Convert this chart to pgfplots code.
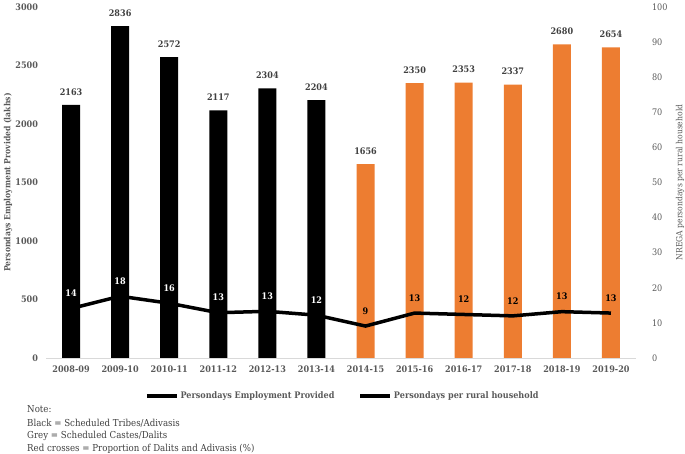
\documentclass[border=0pt]{standalone}
\usepackage{fontspec}
\usepackage{pgfplots}
\pgfplotsset{compat=1.18}
\newfontfamily\chartfont[FakeStretch=0.9]{DejaVu Serif}
\definecolor{tickgray}{HTML}{595959}
\definecolor{labelgray}{HTML}{404040}
\definecolor{nregaorange}{HTML}{ED7D31}
\definecolor{axisgray}{HTML}{D9D9D9}

\begin{document}
\begin{tikzpicture}
\useasboundingbox (0,0) rectangle (685pt,454pt);

% persondays employment provided (lakhs), left axis
\begin{axis}[
  at={(46.5pt,96pt)}, anchor=south west,
  width=589pt, height=351pt, scale only axis,
  xmin=-0.5, xmax=11.5, ymin=0, ymax=3000,
  xtick={0,...,11},
  xticklabels={2008-09,2009-10,2010-11,2011-12,2012-13,2013-14,2014-15,2015-16,2016-17,2017-18,2018-19,2019-20},
  ytick={0,500,...,3000},
  axis x line*=bottom, axis y line*=left,
  y axis line style={draw=none},
  x axis line style={draw=axisgray, line width=0.8pt, -},
  major tick length=0pt,
  tick label style={font=\chartfont\bfseries\fontsize{9}{10}\selectfont, text=tickgray},
  yticklabel style={xshift=-5pt},
  xticklabel style={yshift=-4pt},
  /pgf/number format/assume math mode=true,
  /pgf/number format/1000 sep={},
  ylabel={Persondays Employment Provided (lakhs)},
  ylabel style={at={(rel axis cs:0,0.5)}, anchor=center, yshift=38.5pt,
    font=\chartfont\bfseries\fontsize{8.5}{10}\selectfont, text=tickgray},
  nodes near coords,
  every node near coord/.append style={anchor=center, yshift=13pt,
    font=\chartfont\bfseries\fontsize{9}{10}\selectfont, text=labelgray},
]
\addplot[ybar, bar width=18pt, bar shift=0pt, fill=black, draw=none]
  coordinates {(0,2163) (1,2836) (2,2572) (3,2117) (4,2304) (5,2204)};
\addplot[ybar, bar width=18pt, bar shift=0pt, fill=nregaorange, draw=none]
  coordinates {(6,1656) (7,2350) (8,2353) (9,2337) (10,2680) (11,2654)};
\end{axis}

% persondays per rural household, right axis
\begin{axis}[
  at={(46.5pt,96pt)}, anchor=south west,
  width=589pt, height=351pt, scale only axis,
  xmin=-0.5, xmax=11.5, ymin=0, ymax=100,
  axis y line*=right, axis x line=none,
  y axis line style={draw=none},
  ytick={0,10,...,100},
  major tick length=0pt,
  yticklabel style={font=\chartfont\fontsize{9}{10}\selectfont, text=tickgray, anchor=west, xshift=13pt},
  /pgf/number format/assume math mode=true,
  ylabel={NREGA persondays per rural household},
  ylabel style={at={(rel axis cs:1,0.5)}, anchor=center, yshift=-44.5pt,
    font=\chartfont\fontsize{8.5}{10}\selectfont, text=tickgray},
  legend style={at={(0.503,-0.108)}, anchor=center, draw=none, fill=none,
    legend columns=2, font=\chartfont\bfseries\fontsize{9}{11}\selectfont, text=tickgray,
    /tikz/every even column/.append style={column sep=22pt}},
  legend image code/.code={\draw[#1] (0pt,0pt) -- (30pt,0pt);},
]
\addlegendimage{black, line width=3.5pt}
\addlegendentry{Persondays Employment Provided}
\addplot[black, line width=3.5pt, mark=none]
  coordinates {(0,14.1) (1,17.6) (2,15.6) (3,12.9) (4,13.3) (5,12.2) (6,9.1) (7,12.8) (8,12.4) (9,12.0) (10,13.2) (11,12.8)};
\addlegendentry{Persondays per rural household}
\addplot[draw=none, forget plot,
  nodes near coords={\pgfmathprintnumber[fixed,precision=0]{\pgfplotspointmeta}},
  every node near coord/.append style={anchor=center, yshift=15pt,
    font=\chartfont\bfseries\fontsize{9}{10}\selectfont, text=white}]
  coordinates {(0,14.1) (1,17.6) (2,15.6) (3,12.9) (4,13.3) (5,12.2)};
\addplot[draw=none, forget plot,
  nodes near coords={\pgfmathprintnumber[fixed,precision=0]{\pgfplotspointmeta}},
  every node near coord/.append style={anchor=center, yshift=15pt,
    font=\chartfont\bfseries\fontsize{9}{10}\selectfont, text=black}]
  coordinates {(6,9.1) (7,12.8) (8,12.4) (9,12.0) (10,13.2) (11,12.8)};
\end{axis}

\begin{scope}[every node/.style={anchor=west, inner sep=0pt, text=labelgray,
    font=\chartfont\fontsize{9.6}{11}\selectfont}]
\node at (27pt,45pt) {Note:};
\node at (27pt,31pt) {Black = Scheduled Tribes/Adivasis};
\node at (27pt,18pt) {Grey = Scheduled Castes/Dalits};
\node at (27pt,5pt) {Red crosses = Proportion of Dalits and Adivasis (\%)};
\end{scope}
\end{tikzpicture}
\end{document}
